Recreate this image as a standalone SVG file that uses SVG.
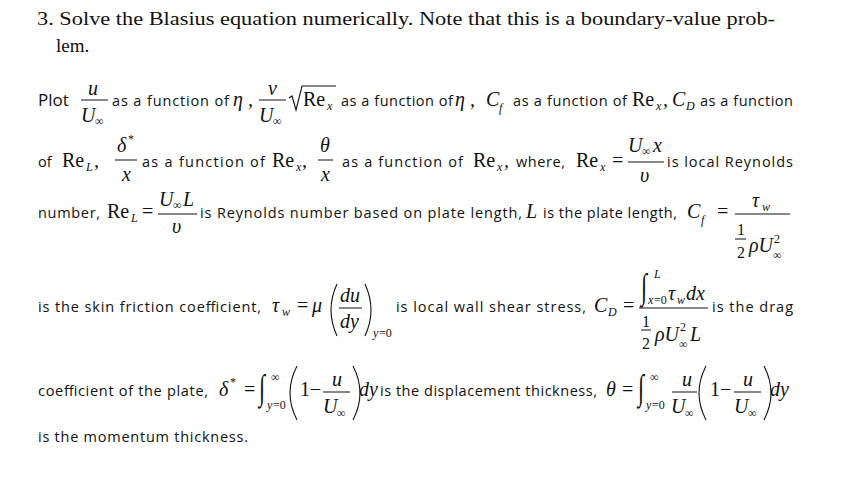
<svg xmlns="http://www.w3.org/2000/svg" width="858" height="497" viewBox="0 0 858 497">
<style>
.h{font-family:"Liberation Serif",serif;font-size:19px;fill:#111}
.t{font-family:"Open Sans","Liberation Sans",sans-serif;font-size:14.5px;fill:#111}
.m{font-family:"Liberation Serif",serif;font-size:20px;font-style:italic;fill:#111}
.r{font-family:"Liberation Serif",serif;font-size:20px;fill:#111}
.s{font-family:"Liberation Serif",serif;font-size:12px;font-style:italic;fill:#111}
.sr{font-family:"Liberation Serif",serif;font-size:12px;fill:#111}
.b{font-family:"Liberation Serif",serif;font-size:22px;fill:#111}
line{stroke:#111;stroke-width:1}
path{fill:none;stroke:#111;stroke-width:1.1}
</style>
<rect width="858" height="497" fill="#fff"/>
<g id="header">
<text class="h" x="37" y="25" textLength="738" lengthAdjust="spacingAndGlyphs">3.  Solve the Blasius equation numerically. Note that this is a boundary-value prob-</text>
<text class="h" x="56" y="52">lem.</text>
</g>
<g id="line1">
<text class="t" x="38" y="106" style="font-size:17px">Plot</text>
<text class="m" x="88" y="95">u</text><line x1="81" y1="100" x2="108" y2="100"/><text class="m" x="81" y="122">U</text><text class="sr" x="95" y="125">∞</text>
<text class="t" x="112" y="106" textLength="117">as a function of</text>
<text class="m" x="233" y="106">η ,</text>
<text class="m" x="268" y="95">v</text><line x1="259" y1="100" x2="286" y2="100"/><text class="m" x="259" y="122">U</text><text class="sr" x="273" y="125">∞</text>
<path d="M289,98 L292,96 L296,110 L302,86 L336,86"/>
<text class="r" x="303" y="106">Re</text><text class="s" x="327" y="110">x</text>
<text class="t" x="341" y="106" textLength="112">as a function of</text>
<text class="m" x="455" y="106">η ,</text>
<text class="m" x="486" y="106">C</text><text class="s" x="499" y="112">f</text>
<text class="t" x="513" y="106" textLength="114">as a function of</text>
<text class="r" x="632" y="106">Re</text><text class="s" x="656" y="110">x</text><text class="m" x="663" y="106">,</text>
<text class="m" x="672" y="106">C</text><text class="s" x="686" y="110">D</text>
<text class="t" x="700" y="106" textLength="93">as a function</text>
</g>
<g id="line2">
<text class="t" x="38" y="167">of</text>
<text class="r" x="62" y="167">Re</text><text class="s" x="86" y="171">L</text><text class="m" x="94" y="167">,</text>
<text class="m" x="117" y="152">δ</text><text class="sr" x="128" y="143">*</text><line x1="115" y1="160" x2="137" y2="160"/><text class="m" x="122" y="181">x</text>
<text class="t" x="142" y="167" textLength="123">as a function of</text>
<text class="r" x="272" y="167">Re</text><text class="s" x="296" y="171">x</text><text class="m" x="302" y="167">,</text>
<text class="m" x="320" y="152">θ</text><line x1="318" y1="160" x2="333" y2="160"/><text class="m" x="321" y="181">x</text>
<text class="t" x="342" y="167" textLength="121">as a function of</text>
<text class="r" x="473" y="167">Re</text><text class="s" x="497" y="171">x</text><text class="m" x="504" y="167">,</text>
<text class="t" x="516" y="167" textLength="49">where,</text>
<text class="r" x="576" y="167">Re</text><text class="s" x="600" y="171">x</text>
<text class="r" x="612" y="167">=</text>
<text class="m" x="628" y="152">U</text><text class="sr" x="642" y="155">∞</text><text class="m" x="653" y="152">x</text>
<line x1="628" y1="162" x2="664" y2="162"/><text class="m" x="640" y="182">υ</text>
<text class="t" x="667" y="167" textLength="126">is local Reynolds</text>
</g>
<g id="line3">
<text class="t" x="38" y="218" textLength="62">number,</text>
<text class="r" x="107" y="218">Re</text><text class="s" x="131" y="222">L</text><text class="r" x="142" y="218">=</text>
<text class="m" x="159" y="206">U</text><text class="sr" x="173" y="209">∞</text><text class="m" x="183" y="206">L</text>
<line x1="158" y1="214" x2="197" y2="214"/><text class="m" x="172" y="233">υ</text>
<text class="t" x="200" y="218" textLength="322">is Reynolds number based on plate length,</text>
<text class="m" x="526" y="218">L</text>
<text class="t" x="543" y="218" textLength="134">is the plate length,</text>
<text class="m" x="687" y="218">C</text><text class="s" x="701" y="224">f</text><text class="r" x="717" y="218">=</text>
<text class="m" x="752" y="207">τ</text><text class="s" x="762" y="211">w</text>
<line x1="735" y1="214" x2="790" y2="214"/>
<text class="r" x="737" y="235" style="font-size:16px">1</text><line x1="735" y1="239" x2="746" y2="239"/><text class="r" x="737" y="258" style="font-size:16px">2</text>
<text class="m" x="749" y="252">ρU</text><text class="sr" x="773" y="259">∞</text><text class="sr" x="774" y="243">2</text>
</g>
<g id="line4">
<text class="t" x="38" y="312" textLength="223">is the skin friction coefficient,</text>
<text class="m" x="272" y="312">τ</text><text class="s" x="282" y="316">w</text><text class="r" x="297" y="312">=</text><text class="m" x="312" y="312">μ</text>
<path d="M337,284 Q325,310 337,336"/>
<text class="m" x="340" y="302">du</text><line x1="339" y1="308" x2="362" y2="308"/><text class="m" x="340" y="328">dy</text>
<path d="M365,284 Q377,310 365,336"/>
<text class="s" x="373" y="337">y</text><text class="sr" x="379" y="337">=0</text>
<text class="t" x="396" y="312" textLength="190">is local wall shear stress,</text>
<text class="m" x="594" y="312">C</text><text class="s" x="608" y="316">D</text><text class="r" x="623" y="312">=</text>
<text class="b" transform="translate(641,298) scale(1,1.6)">∫</text>
<text class="s" x="654" y="278">L</text><text class="s" x="648" y="304">x</text><text class="sr" x="654" y="304">=0</text>
<text class="m" x="668" y="300">τ</text><text class="s" x="677" y="304">w</text><text class="m" x="686" y="300">dx</text>
<line x1="639" y1="308" x2="708" y2="308"/>
<text class="r" x="642" y="327" style="font-size:16px">1</text><line x1="641" y1="330" x2="651" y2="330"/><text class="r" x="642" y="349" style="font-size:16px">2</text>
<text class="m" x="655" y="341">ρU</text><text class="sr" x="679" y="348">∞</text><text class="sr" x="680" y="331">2</text><text class="m" x="690" y="341">L</text>
<text class="t" x="712" y="312" textLength="81">is the drag</text>
</g>
<g id="line5">
<text class="t" x="38" y="396" textLength="170">coefficient of the plate,</text>
<text class="m" x="219" y="396">δ</text><text class="sr" x="230" y="386">*</text><text class="r" x="244" y="396">=</text>
<text class="b" transform="translate(259,399) scale(1,1.6)">∫</text>
<text class="sr" x="271" y="381">∞</text><text class="s" x="267" y="409">y</text><text class="sr" x="273" y="409">=0</text>
<path d="M297,366 Q283,393 297,420"/>
<text class="r" x="300" y="396">1</text><text class="r" x="310" y="396">−</text>
<text class="m" x="332" y="386">u</text><line x1="323" y1="392" x2="350" y2="392"/><text class="m" x="323" y="413">U</text><text class="sr" x="337" y="417">∞</text>
<path d="M353,366 Q367,393 353,420"/>
<text class="m" x="359" y="396">dy</text>
<text class="t" x="380" y="396" textLength="217">is the displacement thickness,</text>
<text class="m" x="606" y="396">θ</text><text class="r" x="622" y="396">=</text>
<text class="b" transform="translate(638,399) scale(1,1.6)">∫</text>
<text class="sr" x="650" y="381">∞</text><text class="s" x="646" y="409">y</text><text class="sr" x="652" y="409">=0</text>
<text class="m" x="682" y="386">u</text><line x1="672" y1="392" x2="697" y2="392"/><text class="m" x="671" y="413">U</text><text class="sr" x="685" y="417">∞</text>
<path d="M706,366 Q692,393 706,420"/>
<text class="r" x="710" y="396">1</text><text class="r" x="720" y="396">−</text>
<text class="m" x="743" y="386">u</text><line x1="734" y1="392" x2="761" y2="392"/><text class="m" x="734" y="413">U</text><text class="sr" x="748" y="417">∞</text>
<path d="M764,366 Q778,393 764,420"/>
<text class="m" x="770" y="396">dy</text>
</g>
<g id="line6">
<text class="t" x="38" y="442" textLength="210">is the momentum thickness.</text>
</g>
</svg>
